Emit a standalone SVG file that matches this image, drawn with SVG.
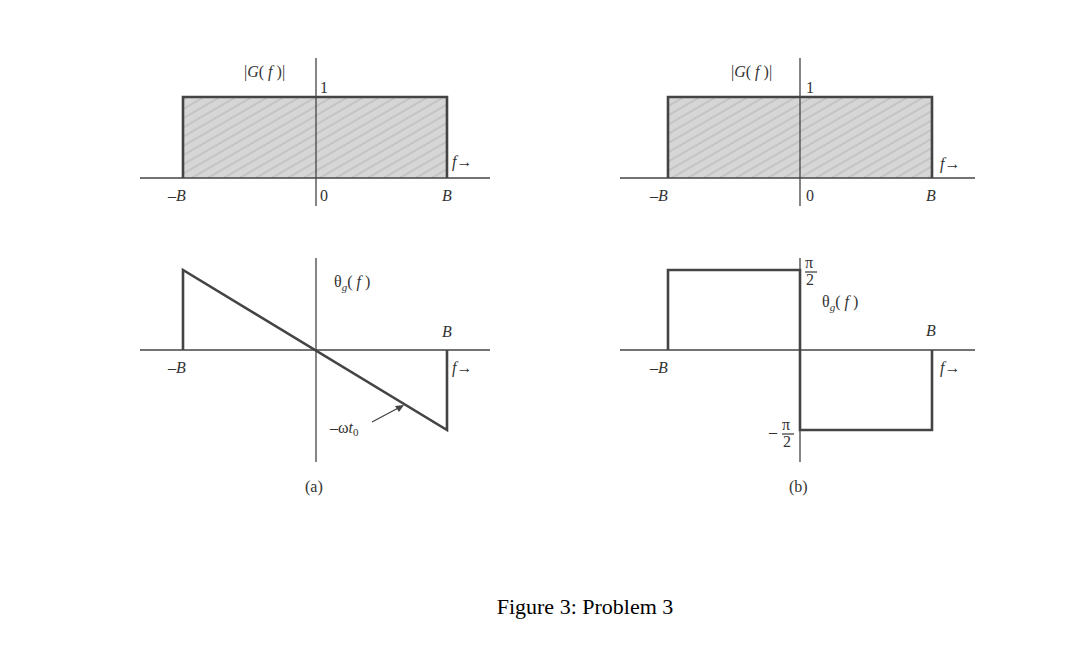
<svg xmlns="http://www.w3.org/2000/svg" width="1074" height="654" viewBox="0 0 1074 654">
<style>
.ax{stroke:#444;stroke-width:1.3;fill:none}
.pl{stroke:#444;stroke-width:2.6;fill:none}
.t{font-family:"Liberation Serif",serif;font-size:16px;fill:#333}
.i{font-style:italic}
.cap{font-family:"Liberation Serif",serif;font-size:22px;fill:#000}
</style>
<defs>
<pattern id="h" width="8" height="8" patternUnits="userSpaceOnUse" patternTransform="rotate(-30)">
<rect width="8" height="8" fill="#d6d6d6"/><line x1="0" y1="2" x2="8" y2="2" stroke="#c4c4c4" stroke-width="2"/>
</pattern>
</defs>
<rect width="1074" height="654" fill="#fff"/>
<g id="a-top">
<rect x="183" y="97" width="264" height="81" fill="url(#h)"/>
<line class="ax" x1="140" y1="178" x2="490" y2="178"/>
<line class="ax" x1="316" y1="58" x2="316" y2="206"/>
<polyline class="pl" points="183,178 183,97 447,97 447,178"/>
<text class="t" x="244" y="77"><tspan>|</tspan><tspan class="i">G</tspan>(<tspan class="i"> f </tspan>)|</text>
<text class="t" x="320" y="93">1</text>
<text class="t" x="168" y="201">–<tspan class="i">B</tspan></text>
<text class="t" x="320" y="201">0</text>
<text class="t i" x="442" y="201">B</text>
<text class="t" x="452" y="167"><tspan class="i">f</tspan>→</text>
</g>
<g id="a-bottom">
<line class="ax" x1="140" y1="350" x2="490" y2="350"/>
<line class="ax" x1="316" y1="258" x2="316" y2="462"/>
<polyline class="pl" points="183,350 183,270 447,430 447,350"/>
<text class="t" x="334" y="287">θ<tspan font-size="11" dy="4" class="i">g</tspan><tspan dy="-4">(</tspan><tspan class="i"> f </tspan>)</text>
<text class="t i" x="442" y="337">B</text>
<text class="t" x="168" y="373">–<tspan class="i">B</tspan></text>
<text class="t" x="452" y="373"><tspan class="i">f</tspan>→</text>
<text class="t" x="330" y="433">–ω<tspan class="i">t</tspan><tspan font-size="11" dy="3">0</tspan></text>
<line class="ax" x1="372" y1="422" x2="402" y2="406"/>
<path d="M404,405 l-9,1 l4,6z" fill="#444"/>
<text class="t" x="305" y="492">(a)</text>
</g>
<g id="b-top">
<rect x="668" y="97" width="264" height="81" fill="url(#h)"/>
<line class="ax" x1="620" y1="178" x2="975" y2="178"/>
<line class="ax" x1="800" y1="58" x2="800" y2="206"/>
<polyline class="pl" points="668,178 668,97 932,97 932,178"/>
<text class="t" x="731" y="77"><tspan>|</tspan><tspan class="i">G</tspan>(<tspan class="i"> f </tspan>)|</text>
<text class="t" x="806" y="93">1</text>
<text class="t" x="650" y="201">–<tspan class="i">B</tspan></text>
<text class="t" x="806" y="201">0</text>
<text class="t i" x="926" y="201">B</text>
<text class="t" x="940" y="169"><tspan class="i">f</tspan>→</text>
</g>
<g id="b-bottom">
<line class="ax" x1="620" y1="350" x2="975" y2="350"/>
<line class="ax" x1="800" y1="258" x2="800" y2="462"/>
<polyline class="pl" points="668,350 668,270 800,270 800,430 932,430 932,350"/>
<text class="t" x="805" y="268">π</text>
<line class="ax" x1="805" y1="272" x2="817" y2="272"/>
<text class="t" x="806" y="285">2</text>
<text class="t" x="822" y="307">θ<tspan font-size="11" dy="4" class="i">g</tspan><tspan dy="-4">(</tspan><tspan class="i"> f </tspan>)</text>
<text class="t i" x="926" y="336">B</text>
<text class="t" x="650" y="373">–<tspan class="i">B</tspan></text>
<text class="t" x="940" y="373"><tspan class="i">f</tspan>→</text>
<text class="t" x="769" y="437">–</text>
<text class="t" x="782" y="430">π</text>
<line class="ax" x1="782" y1="434" x2="794" y2="434"/>
<text class="t" x="783" y="447">2</text>
<text class="t" x="789" y="492">(b)</text>
</g>
<text class="cap" x="585" y="614" text-anchor="middle">Figure 3: Problem 3</text>
</svg>
